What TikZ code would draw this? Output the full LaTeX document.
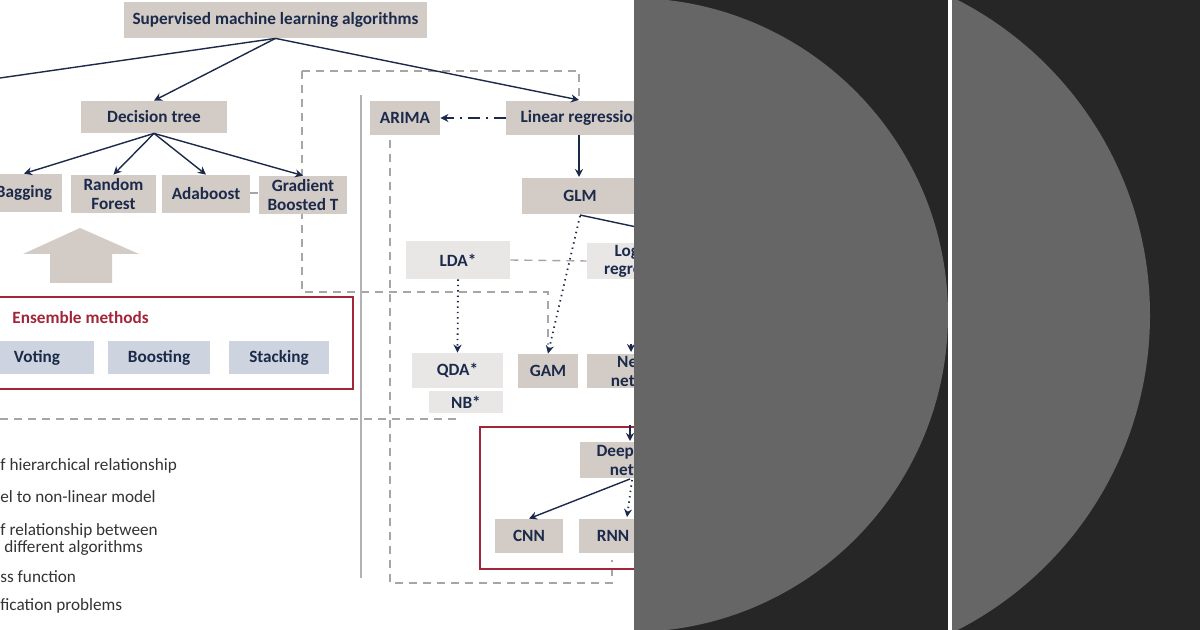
\documentclass[tikz,border=0pt]{standalone}
\usepackage{fontspec}
\setmainfont{Carlito}
\begin{document}
\begin{tikzpicture}[x=0.5pt,y=-0.5pt,
 box/.style={fill=tan1,inner sep=0pt,font=\fontsize{8.6}{9.2}\selectfont\bfseries,text=navy,align=center},
 lbox/.style={box,fill=tanl},
 bbox/.style={box,fill=bluegray},
 arr/.style={draw=navy,line width=0.7pt,-{Stealth[length=4pt,width=4pt]}},
 dsh/.style={draw=gray!70,line width=0.7pt,dash pattern=on 4pt off 3pt},
 leg/.style={anchor=west,font=\fontsize{8.6}{9}\selectfont,text=txt,inner sep=0pt}]
\usetikzlibrary{arrows.meta}
\definecolor{tan1}{HTML}{D3CBC6}
\definecolor{tanl}{HTML}{E9E7E5}
\definecolor{bluegray}{HTML}{CDD4DF}
\definecolor{navy}{HTML}{1B2A4A}
\definecolor{redb}{HTML}{A0263A}
\definecolor{txt}{HTML}{333333}
\useasboundingbox (0,0) rectangle (1200,630);
\fill[white] (0,0) rectangle (1200,630);
\begin{scope}
\clip (0,0) rectangle (634,630);
% dashed frames
\draw[dsh] (302,71) -- (579,71) -- (579,100);
\draw[dsh] (302,71) -- (302,292) -- (548,292) -- (548,345);
\draw[dsh] (0,419) -- (460,419);
\draw[dsh] (390,140) -- (390,583) -- (612,583) -- (612,560);
\draw[dsh] (250,193) -- (259,193);
\draw[gray!60,line width=0.6pt] (361,95) -- (361,578);
% nodes
\node[box,minimum width=151.5pt,minimum height=18pt] (title) at (275.5,20) {Supervised machine learning algorithms};
\node[box,minimum width=73pt,minimum height=16pt] (dt) at (154,117) {Decision tree};
\node[box,minimum width=38pt,minimum height=19pt] (bag) at (24,193) {Bagging};
\node[box,minimum width=42.5pt,minimum height=19pt] (rf) at (113.5,194) {Random\\Forest};
\node[box,minimum width=44pt,minimum height=19pt] (ada) at (206,194) {Adaboost};
\node[box,minimum width=44pt,minimum height=19pt] (gbt) at (303,195) {Gradient\\Boosted T};
% up arrow
\fill[tan1] (80,228) -- (139,254) -- (112,254) -- (112,283) -- (50,283) -- (50,254) -- (23,254) -- cycle;
% ensemble
\draw[redb,line width=0.8pt] (-5,297) rectangle (353,389);
\node[anchor=west,inner sep=0pt,font=\fontsize{8.6}{9}\selectfont\bfseries,text=redb] (ens) at (12,318) {Ensemble methods};
\node[bbox,minimum width=57pt,minimum height=16.5pt] (vot) at (37,357.5) {Voting};
\node[bbox,minimum width=51pt,minimum height=16.5pt] (boo) at (159,357.5) {Boosting};
\node[bbox,minimum width=50pt,minimum height=16.5pt] (sta) at (279,357.5) {Stacking};
% right part
\node[box,minimum width=35pt,minimum height=17pt] (arima) at (405,118) {ARIMA};
\node[box,minimum width=75pt,minimum height=17pt,anchor=west] (lr) at (506,118) {Linear regression};
\node[box,minimum width=58pt,minimum height=18pt] (glm) at (580,196) {GLM};
\node[lbox,minimum width=52pt,minimum height=19pt] (lda) at (458,260) {LDA*};
\node[lbox,minimum width=54pt,minimum height=18pt] (lo) at (641,261) {Logistic\\regression};
\node[lbox,minimum width=45.5pt,minimum height=17.5pt] (qda) at (457.5,370.5) {QDA*};
\node[lbox,minimum width=37pt,minimum height=11pt] (nb) at (466,402) {NB*};
\node[box,minimum width=30pt,minimum height=17pt] (gam) at (548,371) {GAM};
\node[box,minimum width=54pt,minimum height=17pt] (nn) at (641,371) {Neural\\network};
\draw[redb,line width=0.8pt] (480,427) rectangle (700,569);
\node[box,minimum width=60pt,minimum height=18pt] (dnn) at (640,460) {Deep neural\\network};
\node[box,minimum width=34pt,minimum height=17pt] (cnn) at (529,536) {CNN};
\node[box,minimum width=34pt,minimum height=17pt] (rnn) at (613,536) {RNN};
% connectors
\coordinate (offl) at (0,78);
\draw[navy,line width=0.7pt] (title.south) -- (offl);
\draw[arr] (title.south) -- (579,100);
\draw[arr] (title.south) -- (dt.north);
\draw[arr] (dt.south) -- (bag.north);
\draw[arr] (dt.south) -- (rf.north);
\draw[arr] (dt.south) -- (ada.north);
\draw[arr] (dt.south) -- (gbt.north);
\draw[arr,dash pattern=on 6pt off 3pt on 1pt off 3pt] (lr.west) -- (arima.east);
\draw[arr] (579,135) -- (579,177);
\coordinate (glmr) at (660,232);
\draw[navy,line width=0.7pt] (580,215) -- (glmr);
\draw[dsh] (lda.east) -- (lo.west);
\draw[arr,dotted,line width=0.9pt] (lda.south) -- (qda.north);
\draw[arr,dotted,line width=0.9pt] (580,216) -- (gam.north);
\draw[arr] (630,425) -- (630,441);
\draw[arr] (631,344) -- (631,352);
\draw[arr] (630,479) -- (cnn.north);
\draw[arr,dotted,line width=0.9pt] (632,480) -- (627,517);
\end{scope}
% legend
\node[leg] (l1) at (0,466) {f hierarchical relationship};
\node[leg] (l2) at (0,497) {el to non-linear model};
\node[leg] (l3) at (0,531) {f relationship between};
\node[leg] (l4) at (4,548) {different algorithms};
\node[leg] (l5) at (0,577) {ss function};
\node[leg] (l6) at (0,606) {fication problems};
% dark panel
\fill[black!85] (634,0) rectangle (1200,630);
\begin{scope}
\clip (634,0) rectangle (948,630);
\fill[black!60] (631,315) circle [radius=317];
\end{scope}
\begin{scope}
\clip (952,0) rectangle (1200,630);
\fill[black!60] (796,315) circle [radius=354];
\end{scope}
\fill[white] (948,0) rectangle (952,630);
\end{tikzpicture}
\end{document}
